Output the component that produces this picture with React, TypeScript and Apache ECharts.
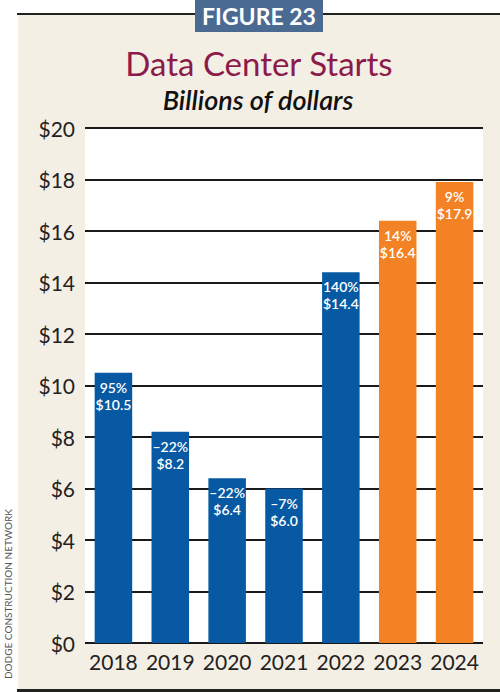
import { useEffect, useRef } from 'react';
import * as echarts from 'echarts';

// 年份、金额（十亿美元）、同比变化
const years = ['2018', '2019', '2020', '2021', '2022', '2023', '2024'];
const values = [10.5, 8.2, 6.4, 6.0, 14.4, 16.4, 17.9];
const changes = ['95%', '\u201322%', '\u201322%', '\u20137%', '140%', '14%', '9%'];
const forecast = [false, false, false, false, false, true, true];
const yTicks = [0, 2, 4, 6, 8, 10, 12, 14, 16, 18, 20];

const FONT = 'Lato, "Noto Sans", sans-serif';
const BLUE = '#0659a2';
const ORANGE = '#f28224';

const App = () => {
  const chartRef = useRef<HTMLDivElement>(null);

  useEffect(() => {
    document.body.style.margin = '0';
    if (!chartRef.current) return;
    const chart = echarts.init(chartRef.current, null, { renderer: 'svg' });

    const option = {
      animation: false,
      graphic: [
        // 米色背景
        { type: 'rect', z: -10, shape: { x: 18, y: 14, width: 482, height: 676 }, style: { fill: '#f4efe4' } },
        { type: 'line', shape: { x1: 17, y1: 14, x2: 500, y2: 14 }, style: { stroke: '#222', lineWidth: 2 } },
        { type: 'line', shape: { x1: 17, y1: 690.5, x2: 500, y2: 690.5 }, style: { stroke: '#222', lineWidth: 3 } },
        // FIGURE 23 标签
        { type: 'rect', shape: { x: 195, y: 0, width: 128, height: 32 }, style: { fill: '#4b6a91' } },
        {
          type: 'text', x: 259, y: 16,
          style: { text: 'FIGURE 23', fill: '#fff', font: `bold 23px ${FONT}`, align: 'center', verticalAlign: 'middle' },
        },
        {
          type: 'text', x: 259, y: 63,
          style: { text: 'Data Center Starts', fill: '#8c1a4b', font: `33px ${FONT}`, align: 'center', verticalAlign: 'middle' },
        },
        {
          type: 'text', x: 258, y: 99,
          style: { text: 'Billions of dollars', fill: '#111', font: `italic 600 27px ${FONT}`, align: 'center', verticalAlign: 'middle' },
        },
        // 侧边来源文字
        {
          type: 'text', x: 8, y: 594, rotation: Math.PI / 2,
          style: { text: 'DODGE CONSTRUCTION NETWORK', fill: '#555', font: `10px ${FONT}`, align: 'center', verticalAlign: 'middle' },
        },
      ],
      grid: {
        left: 85,
        right: 17,
        top: 128,
        bottom: 49,
        show: true,
        backgroundColor: '#fff',
        borderWidth: 0,
      },
      xAxis: {
        type: 'category',
        data: years,
        axisLine: { show: false },
        axisTick: { show: false },
        axisLabel: { interval: 0, fontSize: 21, color: '#222', fontFamily: FONT, margin: 8 },
      },
      yAxis: {
        type: 'value',
        min: yTicks[0],
        max: yTicks[yTicks.length - 1],
        interval: 2,
        axisLine: { show: false },
        axisTick: { show: false },
        axisLabel: { fontSize: 21, color: '#222', fontFamily: FONT, margin: 10, formatter: (v: number) => `$${v}` },
        splitLine: { lineStyle: { color: '#1a1a1a', width: 2 } },
      },
      series: [
        {
          type: 'bar',
          barWidth: '66%',
          z: 3,
          data: values.map((v, i) => ({
            value: v,
            itemStyle: { color: forecast[i] ? ORANGE : BLUE },
          })),
          label: {
            show: true,
            position: 'insideTop',
            distance: 6,
            color: '#fff',
            fontSize: 14,
            fontWeight: 600,
            fontFamily: FONT,
            lineHeight: 17,
            formatter: (p: { dataIndex: number; value: number }) =>
              `${changes[p.dataIndex]}\n$${p.value.toFixed(1)}`,
          },
        },
      ],
    };

    chart.setOption(option);
    return () => chart.dispose();
  }, []);

  return <div ref={chartRef} style={{ width: '500px', height: '692px' }} />;
};

export default App;
